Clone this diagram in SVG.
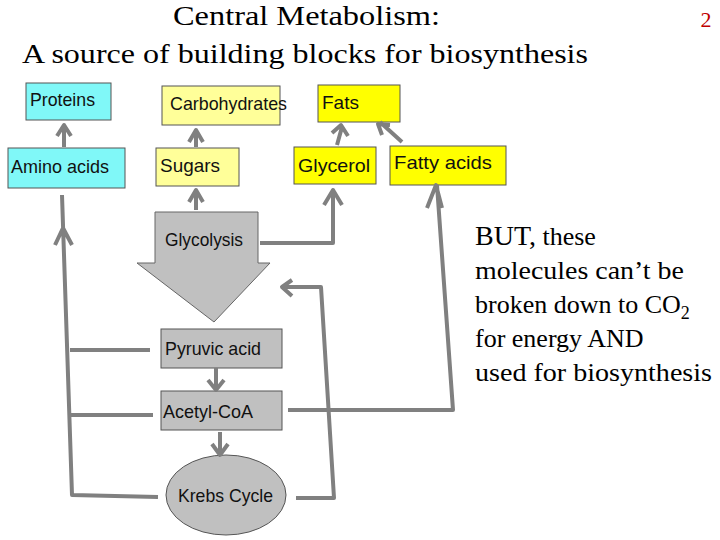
<svg xmlns="http://www.w3.org/2000/svg" width="720" height="540" viewBox="0 0 720 540">
<style>
.t{font-family:"Liberation Serif",serif;fill:#000}
.l{font-family:"Liberation Sans",Arial,sans-serif;font-size:19px;fill:#111}
.c{fill:none;stroke:#808080;stroke-width:4;stroke-linejoin:round}
.b{stroke:#555;stroke-width:1}
</style>
<rect width="720" height="540" fill="#fff"/>
<text class="t" x="173" y="25" font-size="28" textLength="267" lengthAdjust="spacingAndGlyphs">Central Metabolism:</text>
<text class="t" x="22" y="63" font-size="28" textLength="566" lengthAdjust="spacingAndGlyphs">A source of building blocks for biosynthesis</text>
<text x="706" y="27" font-family="Liberation Serif,serif" font-size="22" fill="#c00000" text-anchor="middle">2</text>
<g id="proteins"><rect class="b" x="26" y="83" width="85" height="37" fill="#80f8f8"/><text class="l" x="30" y="106" textLength="65" lengthAdjust="spacingAndGlyphs">Proteins</text></g>
<g id="amino"><rect class="b" x="8" y="148" width="117" height="40" fill="#80f8f8"/><text class="l" x="11" y="173" textLength="98" lengthAdjust="spacingAndGlyphs">Amino acids</text></g>
<g id="carbs"><rect class="b" x="162" y="86" width="118" height="39" fill="#ffff99"/><text class="l" x="170" y="110" textLength="117" lengthAdjust="spacingAndGlyphs">Carbohydrates</text></g>
<g id="sugars"><rect class="b" x="156" y="148" width="83" height="38" fill="#ffff99"/><text class="l" x="160" y="172" textLength="60" lengthAdjust="spacingAndGlyphs">Sugars</text></g>
<g id="fats"><rect class="b" x="318" y="85" width="82" height="37" fill="#ffff00"/><text class="l" x="322" y="109">Fats</text></g>
<g id="glycerol"><rect class="b" x="294" y="147" width="82" height="37" fill="#ffff00"/><text class="l" x="298" y="172" textLength="72" lengthAdjust="spacingAndGlyphs">Glycerol</text></g>
<g id="fatty"><rect class="b" x="390" y="146" width="116" height="39" fill="#ffff00"/><text class="l" x="394" y="169" textLength="98" lengthAdjust="spacingAndGlyphs">Fatty acids</text></g>
<g id="glycolysis"><path d="M155 212H258V263H270L214 322L137 263H155Z" fill="#c0c0c0" stroke="#666" stroke-width="1"/><text class="l" x="165" y="246" textLength="78" lengthAdjust="spacingAndGlyphs">Glycolysis</text></g>
<g id="pyruvic"><rect class="b" x="161" y="329" width="121" height="39" fill="#c0c0c0"/><text class="l" x="165" y="355" textLength="96" lengthAdjust="spacingAndGlyphs">Pyruvic acid</text></g>
<g id="acetyl"><rect class="b" x="161" y="391" width="121" height="39" fill="#c0c0c0"/><text class="l" x="163" y="418" textLength="90" lengthAdjust="spacingAndGlyphs">Acetyl-CoA</text></g>
<g id="krebs"><ellipse cx="226" cy="495" rx="60" ry="40" fill="#c0c0c0" stroke="#555"/><text class="l" x="178" y="502" textLength="95" lengthAdjust="spacingAndGlyphs">Krebs Cycle</text></g>
<g id="connectors" class="c">
<path d="M158 497L72 495L62 195M55 245L63 228L72 245"/>
<path d="M70 350H150M70 415H153"/>
<path d="M64 147V126M57 136L64 125L71 136"/>
<path d="M196 147V132M189 142L196 130L203 142"/>
<path d="M196 210V192M189 202L196 190L203 202"/>
<path d="M337 145L342 127M332 133L341 125L348 136"/>
<path d="M402 142L380 122M382 135L378 124L390 125"/>
<path d="M260 243H333V190M324 205L333 190L342 205"/>
<path d="M288 410H453L437 185M427 208L436 185L442 208"/>
<path d="M296 498H334L321 287H282M292 280L282 287L292 296"/>
<path d="M216 368V389M208 380L216 390L224 380"/>
<path d="M220 432V455M212 444L220 455L228 444"/>
</g>
<g class="t" font-size="26">
<text x="475" y="245"><tspan font-size="28">BUT,</tspan> these</text>
<text x="475" y="279" textLength="209" lengthAdjust="spacingAndGlyphs">molecules can’t be</text>
<text x="475" y="313">broken down to CO<tspan font-size="18" dy="6">2</tspan></text>
<text x="475" y="347">for energy AND</text>
<text x="475" y="381" textLength="237" lengthAdjust="spacingAndGlyphs">used for biosynthesis</text>
</g>
</svg>
